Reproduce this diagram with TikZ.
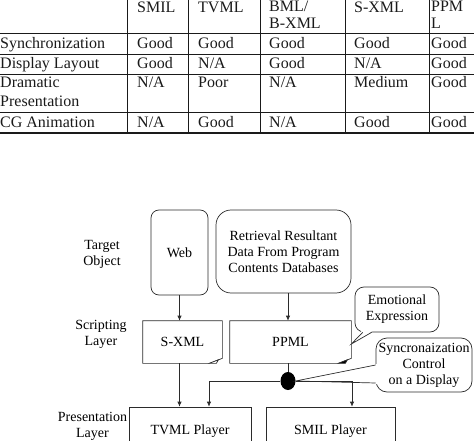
\documentclass[tikz,border=0pt]{standalone}
\usepackage{fontspec}
\setmainfont{Liberation Serif}
\usetikzlibrary{arrows.meta,positioning,calc,shapes.geometric}
\definecolor{tabink}{HTML}{1A1A1A}
\definecolor{figline}{HTML}{2B2B2B}
\newcommand{\pagefold}[2]{%
  \draw[docline] (#1.north west) -- (#1.north east) -- ($(#1.south east)+(0,-5)$) -- ($(#1.south east)+(-13,0)$) -- (#1.south west) -- cycle;
  \draw[docline,fill=#2] ($(#1.south east)+(-13,0)$) -- ($(#1.south east)+(-4,-3.5)$) -- ($(#1.south east)+(-6,0)$) -- cycle;
}

\begin{document}
\begin{tikzpicture}[
  x=1pt,y=-1pt,
  cell/.style={anchor=base west,inner sep=0pt,align=left,font=\fontsize{16}{17}\selectfont,text=tabink},
  rule/.style={draw=tabink,line width=1pt},
  lbl/.style={align=center,inner sep=0pt,font=\fontsize{14}{16}\selectfont},
  box/.style={draw=figline,line width=0.7pt,align=center,inner sep=0pt,font=\fontsize{14}{16}\selectfont},
  rbox/.style={box,rounded corners=8pt},
  doc/.style={box,draw=none},
  docline/.style={draw=figline,line width=0.7pt},
  bubble/.style={box,fill=white,rounded corners=9pt},
  arrow/.style={-{Latex[length=5pt,width=4.5pt]},draw=figline,line width=0.7pt},
  junction/.style={ellipse,fill=black,inner sep=0pt,minimum width=15pt,minimum height=18pt}
]
\useasboundingbox (0,0) rectangle (474,441);
\clip (0,0) rectangle (474,441);

% comparison table
\foreach \xv in {127,188,260,345,429} \draw[rule] (\xv,0) -- (\xv,133);
\foreach \yv in {34,55,75,113} \draw[rule] (0,\yv) -- (474,\yv);
\draw[rule,line width=1.6pt] (0,133) -- (474,133);

% two-line cells sit on the baseline of their last line
\node[cell] (h1) at (137,13) {SMIL};
\node[cell] (h2) at (198,13) {TVML};
\node[cell] (h3) at (269,29) {BML/\\B-XML};
\node[cell] (h4) at (354,13) {S-XML};
\node[cell] (h5) at (431,29) {PPM\\L};

\node[cell] (s0) at (0,49) {Synchronization};
\node[cell] (s1) at (137,49) {Good};
\node[cell] (s2) at (198,49) {Good};
\node[cell] (s3) at (269,49) {Good};
\node[cell] (s4) at (354,49) {Good};
\node[cell] (s5) at (431,49) {Good};

\node[cell] (d0) at (0,69) {Display Layout};
\node[cell] (d1) at (137,69) {Good};
\node[cell] (d2) at (198,69) {N/A};
\node[cell] (d3) at (269,69) {Good};
\node[cell] (d4) at (354,69) {N/A};
\node[cell] (d5) at (431,69) {Good};

\node[cell] (m0) at (0,107) {Dramatic\\[2pt]Presentation};
\node[cell] (m1) at (137,88) {N/A};
\node[cell] (m2) at (198,88) {Poor};
\node[cell] (m3) at (269,88) {N/A};
\node[cell] (m4) at (354,88) {Medium};
\node[cell] (m5) at (431,88) {Good};

\node[cell] (g0) at (0,128) {CG Animation};
\node[cell] (g1) at (137,128) {N/A};
\node[cell] (g2) at (198,128) {Good};
\node[cell] (g3) at (269,128) {N/A};
\node[cell] (g4) at (354,128) {Good};
\node[cell] (g5) at (431,128) {Good};

% layer diagram
\node[lbl] (target) at (102,254.5) {Target\\Object};
\node[lbl] (script) at (101,334.5) {Scripting\\Layer};
\node[lbl] (present) at (92.5,426) {Presentation\\Layer};

\node[rbox,minimum width=57pt,minimum height=85pt] (web) at (179.5,252.5) {Web};
\node[rbox,rounded corners=15pt,minimum width=135pt,minimum height=83pt] (retr) at (283.5,251.5) {Retrieval Resultant\\Data From Program\\Contents Databases};
\node[doc,minimum width=79pt,minimum height=42pt] (sxml) at (182.5,342) {S-XML};
\node[doc,minimum width=121pt,minimum height=42pt] (ppml) at (290.5,342) {PPML};
\node[box,minimum width=122pt,minimum height=48pt] (tvml) at (190,431) {TVML Player};
\node[box,minimum width=129pt,minimum height=48pt] (smil) at (330.5,431) {SMIL Player};
\node[junction] (junc) at (288,381) {};

\pagefold{sxml}{white}
\pagefold{ppml}{black}

% callouts
\node[bubble,minimum width=84pt,minimum height=45pt] (emo) at (397,309.5) {Emotional\\Expression};
\fill[white] ($(emo.south west)+(7,-1.5)$) -- ($(ppml.east)+(0,2)$) -- ($(emo.south west)+(18,-1.5)$) -- cycle;
\draw[docline] ($(emo.south west)+(8,0)$) -- ($(ppml.east)+(0,2)$) -- ($(emo.south west)+(17,0)$);

\node[bubble,rounded corners=11pt,minimum width=96pt,minimum height=54pt] (sync) at (424,365) {Syncronaization\\Control\\on a Display};
\fill[white] ($(sync.west)+(1.5,-1)$) -- (junc.east) -- ($(sync.west)+(1.5,19)$) -- cycle;
\draw[docline] (sync.west) -- (junc.east) -- ($(sync.west)+(0,18)$);

% connectors
\draw[arrow] (web) -- (web.south |- sxml.north);
\draw[arrow] (retr.south -| junc) -- (junc |- ppml.north);
\draw[docline] (ppml.south -| junc) -- (junc);
\draw[arrow] (sxml.south -| web) -- (web |- tvml.north);
\draw[arrow] (junc) -| ([xshift=19pt]tvml.north);
\draw[arrow] (junc) -| ([xshift=21.5pt]smil.north);
\end{tikzpicture}
\end{document}
